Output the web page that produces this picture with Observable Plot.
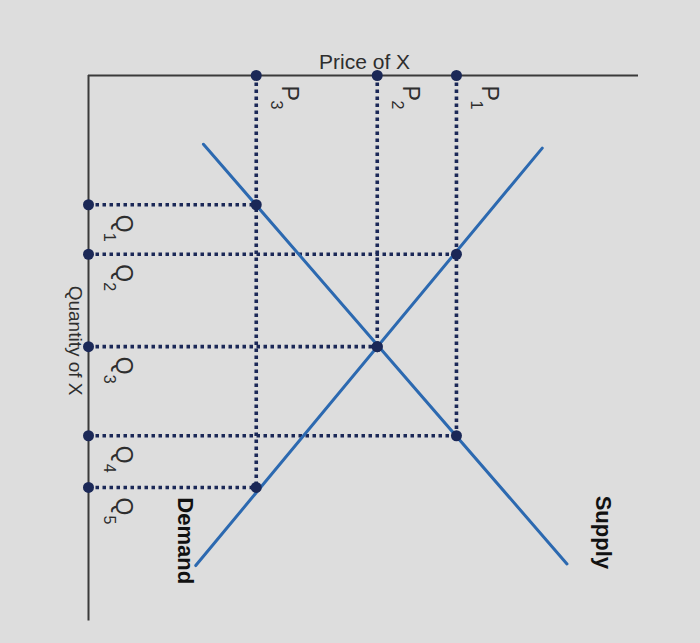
<!DOCTYPE html>
<html>
<head>
<meta charset="utf-8">
<script src="https://cdn.jsdelivr.net/npm/d3@7"></script>
<script src="https://cdn.jsdelivr.net/npm/@observablehq/plot@0.6"></script>
<style>
  html, body { margin: 0; padding: 0; background: #dddddd; }
  #chart svg { display: block; background: transparent; }
</style>
</head>
<body>
<div id="chart"></div>
<script>
// Price levels (horizontal axis, top) and quantity levels (vertical axis, left)
const priceSubs = ["1", "2", "3"];
const priceValues = [6.69, 5.25, 3.05];
const quantitySubs = ["1", "2", "3", "4", "5"];
const quantityValues = [2.35, 3.25, 4.93, 6.55, 7.49];

// Supply and demand lines, as (price, quantity) end points
const supplyPrice = [2.09, 8.70];
const supplyQuantity = [1.25, 8.88];
const demandPrice = [1.95, 8.25];
const demandQuantity = [8.91, 1.32];

// Where each line meets each price level: [price index, quantity index]
const supplyMeets = [[2, 0], [1, 2], [0, 3]];
const demandMeets = [[2, 4], [1, 2], [0, 1]];

// Curve names and where they sit
const curveNames = ["Demand", "Supply"];
const curveLabelPrice = [1.76, 9.35];
const curveLabelQuantity = [7.67, 7.64];

const axisMax = 10;

const line = (P, Q) => P.map((p, i) => ({price: p, quantity: Q[i]}));
const meets = [...supplyMeets, ...demandMeets].map(([pi, qi]) => ({
  price: priceValues[pi], quantity: quantityValues[qi]
}));

// Guides: each price drops to its farthest meeting point, each quantity runs to its meeting point
const vGuides = priceValues.map((p) => ({
  price: p,
  q2: d3.max(meets.filter((m) => m.price === p), (m) => m.quantity)
}));
const hGuides = quantityValues.map((q) => ({
  quantity: q,
  p2: d3.max(meets.filter((m) => m.quantity === q), (m) => m.price)
}));

const navy = "#1b2857";
const blue = "#2c69b0";
const ink = "#2e2e2e";
const font = "'Liberation Sans', Arial, Helvetica, sans-serif";

const chart = Plot.plot({
  width: 700,
  height: 643,
  margin: 0,
  style: {fontFamily: font, background: "transparent"},
  x: {domain: [0, axisMax], range: [88, 638], axis: null},
  y: {domain: [0, axisMax], range: [75, 625], axis: null},
  marks: [
    // axes
    Plot.ruleY([0], {x1: 0, x2: axisMax, stroke: "#3a3a3a", strokeWidth: 2}),
    Plot.ruleX([0], {y1: 0, y2: axisMax * 0.992, stroke: "#3a3a3a", strokeWidth: 2}),
    // dotted guides
    Plot.link(vGuides, {
      x1: "price", x2: "price", y1: 0, y2: "q2",
      stroke: navy, strokeWidth: 3.6, strokeDasharray: "3.5,3.5"
    }),
    Plot.link(hGuides, {
      x1: 0, x2: "p2", y1: "quantity", y2: "quantity",
      stroke: navy, strokeWidth: 3.6, strokeDasharray: "3.5,3.5"
    }),
    // supply and demand
    Plot.line(line(supplyPrice, supplyQuantity), {
      x: "price", y: "quantity", stroke: blue, strokeWidth: 3, strokeLinecap: "round"
    }),
    Plot.line(line(demandPrice, demandQuantity), {
      x: "price", y: "quantity", stroke: blue, strokeWidth: 3, strokeLinecap: "round"
    }),
    // dots on axes and at meeting points
    Plot.dot(priceValues, {x: (d) => d, y: 0, r: 5.5, fill: navy}),
    Plot.dot(quantityValues, {x: 0, y: (d) => d, r: 5.5, fill: navy}),
    Plot.dot(meets, {x: "price", y: "quantity", r: 5.5, fill: navy}),
    // axis titles
    Plot.text(["Price of X"], {
      x: 5.02, y: 0, dy: -13, fontSize: 21, fill: ink, textAnchor: "middle"
    }),
    Plot.text(["Quantity of X"], {
      x: 0, y: 4.82, dx: -13, rotate: 90, fontSize: 19, fill: ink, textAnchor: "middle"
    }),
    // P labels with subscripts
    Plot.text(priceValues, {
      x: (d) => d, y: 0, text: () => "P", dx: 33, dy: 10,
      rotate: 90, fontSize: 23, fill: ink, textAnchor: "start"
    }),
    Plot.text(priceValues, {
      x: (d) => d, y: 0, text: (d, i) => priceSubs[i], dx: 20, dy: 25,
      rotate: 90, fontSize: 16, fill: ink, textAnchor: "start"
    }),
    // Q labels with subscripts
    Plot.text(quantityValues, {
      x: 0, y: (d) => d, text: () => "Q", dx: 35, dy: 10,
      rotate: 90, fontSize: 23, fill: ink, textAnchor: "start"
    }),
    Plot.text(quantityValues, {
      x: 0, y: (d) => d, text: (d, i) => quantitySubs[i], dx: 21, dy: 28,
      rotate: 90, fontSize: 16, fill: ink, textAnchor: "start"
    }),
    // curve names
    Plot.text(curveNames, {
      x: (d, i) => curveLabelPrice[i], y: (d, i) => curveLabelQuantity[i],
      rotate: 90, fontSize: 22, fontWeight: "bold", fill: "#111", textAnchor: "start"
    })
  ]
});

document.getElementById("chart").appendChild(chart);
</script>
</body>
</html>
